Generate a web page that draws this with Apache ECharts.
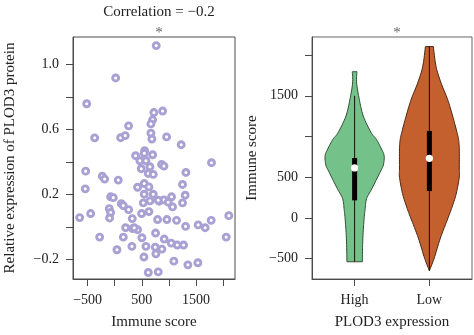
<!DOCTYPE html>
<html>
<head>
<meta charset="utf-8">
<script src="https://cdn.jsdelivr.net/npm/echarts@6/dist/echarts.min.js"></script>
<style>html,body{margin:0;padding:0;background:#fff}#c{width:474px;height:335px}</style>
</head>
<body>
<div id="c"></div>
<script>
// ---- Scatter data (Immune score vs relative PLOD3 protein expression) ----
const scatterX = [766,17,-518,723,884,699,668,256,668,-371,109,194,686,958,1227,552,
  385,545,699,465,576,490,650,865,908,619,711,-537,-230,-187,65,1787,1314,1252,1301,
  422,545,631,545,711,-544,-76,-27,121,158,256,527,650,822,908,1049,1068,1252,803,988,
  -101,-76,-445,-648,-95,324,496,631,791,963,1142,1308,1541,1670,1781,2107,
  201,330,422,360,754,914,1043,1154,1271,158,-279,502,41,317,576,748,871,760,539,
  1092,1351,1535,2058,619,803];
const scatterY = [1.117,0.918,0.759,0.705,0.714,0.660,0.635,0.623,0.578,0.549,0.550,0.563,0.542,0.555,0.507,0.470,
  0.439,0.454,0.445,0.408,0.408,0.359,0.371,0.386,0.375,0.330,0.324,0.344,0.313,0.295,0.289,0.396,0.336,0.262,0.196,
  0.245,0.268,0.247,0.202,0.202,0.235,0.186,0.181,0.144,0.132,0.107,0.149,0.161,0.159,0.167,0.186,0.124,0.149,0.165,0.153,
  0.113,0.089,0.083,0.058,0.056,0.052,0.083,0.095,0.046,0.046,0.041,0.004,0.013,-0.004,0.041,0.070,
  -0.004,-0.010,-0.016,-0.004,-0.037,-0.074,-0.099,-0.111,-0.111,-0.062,-0.062,-0.066,-0.140,-0.119,-0.119,-0.124,-0.136,-0.165,-0.185,
  -0.210,-0.233,-0.220,-0.062,-0.280,-0.276];
const scatterXTicks = [-500,0,500,1000,1500,2000];
const scatterXLabels = [-500,500,1500];
const scatterYTicks = [-0.2,0,0.2,0.4,0.6,0.8,1.0];
const scatterYLabels = [-0.2,0.2,0.6,1.0];

// ---- Violin data (Immune score by PLOD3 expression group) ----
const groups = ['High','Low'];
const violinColors = ['#74c28a','#c4602e'];
const violinEdges = ['#2f4f36','#4a2616'];
const highLevels = [1796,1657,1455,1251,1049,966,845,763,650,560,357,235,100,0,-250,-540];
const highWidths = [0.031,0.027,0.063,0.116,0.22,0.29,0.36,0.395,0.385,0.34,0.23,0.16,0.14,0.128,0.11,0.103];
const lowLevels = [2105,1861,1659,1455,1251,1049,966,845,601,500,300,150,0,-250,-500,-650];
const lowWidths = [0.053,0.089,0.156,0.244,0.311,0.37,0.39,0.4,0.4,0.4,0.36,0.31,0.25,0.147,0.063,0.0];
const boxQ1 = [215,329];
const boxQ3 = [735,1068];
const boxMedian = [613,732];
const whiskerLow = [-540,-650];
const whiskerHigh = [1500,2105];
const violinYTicks = [-500,0,500,1000,1500,2000];
const violinYLabels = [-500,0,500,1500];

const FONT = 'Liberation Serif';
const AX = '#4a4a4a';
const fmtMinus = s => String(s).replace('-', '\u2212');

const chart = echarts.init(document.getElementById('c'), null, {renderer:'canvas'});

const profiles = [
  {levels: highLevels, widths: highWidths},
  {levels: lowLevels, widths: lowWidths}
];

// Catmull-Rom smoothing of a pixel polyline (rendering only)
function smoothLine(pts, steps) {
  const out = [];
  const n = pts.length;
  for (let i = 0; i < n - 1; i++) {
    const p0 = pts[Math.max(i - 1, 0)], p1 = pts[i], p2 = pts[i + 1], p3 = pts[Math.min(i + 2, n - 1)];
    for (let s = 0; s < steps; s++) {
      const t = s / steps, t2 = t * t, t3 = t2 * t;
      const f = k => 0.5 * ((2 * p1[k]) + (-p0[k] + p2[k]) * t + (2 * p0[k] - 5 * p1[k] + 4 * p2[k] - p3[k]) * t2 + (-p0[k] + 3 * p1[k] - 3 * p2[k] + p3[k]) * t3);
      out.push([f(0), f(1)]);
    }
  }
  out.push(pts[n - 1]);
  return out;
}

function violinItem(params, api) {
  const gi = api.value(0);
  const cx = gi + 1;
  const p = profiles[gi];
  const right = [], left = [];
  for (let i = 0; i < p.levels.length; i++) {
    right.push(api.coord([cx + p.widths[i], p.levels[i]]));
    left.push(api.coord([cx - p.widths[i], p.levels[i]]));
  }
  const rs = smoothLine(right, 8);
  const ls = smoothLine(left, 8).reverse();
  const pts = rs.concat(ls);
  const c = api.coord([cx, 0])[0];
  const yq1 = api.coord([cx, boxQ1[gi]])[1];
  const yq3 = api.coord([cx, boxQ3[gi]])[1];
  const ym = api.coord([cx, boxMedian[gi]])[1];
  const ywl = api.coord([cx, whiskerLow[gi]])[1];
  const ywh = api.coord([cx, whiskerHigh[gi]])[1];
  return {
    type: 'group',
    children: [
      {type:'polygon', shape:{points: pts},
        style:{fill: violinColors[gi], stroke: violinEdges[gi], lineWidth: 1}},
      {type:'line', shape:{x1:c, y1:ywl, x2:c, y2:ywh}, style:{stroke:'#111', lineWidth:1}},
      {type:'rect', shape:{x:c-2.5, y:yq3, width:5, height:yq1-yq3}, style:{fill:'#000'}},
      {type:'circle', shape:{cx:c, cy:ym, r:3.6}, style:{fill:'#fff'}}
    ]
  };
}

const axisCommon = {
  axisLine: {show:true, onZero:false, lineStyle:{color:AX, width:1}},
  splitLine: {show:false},
  nameTextStyle: {fontFamily:FONT, fontSize:15, color:'#222'},
};

const option = {
  animation: false,
  backgroundColor: '#fff',
  title: [
    {text:'Correlation = \u22120.2', left:154, top:0, textAlign:'center',
      textStyle:{fontFamily:FONT, fontSize:15, fontWeight:'normal', color:'#222'}},
    {text:'*', left:154, top:21, textAlign:'center',
      textStyle:{fontFamily:FONT, fontSize:15, fontWeight:'normal', color:'#666'}},
    {text:'*', left:392, top:21, textAlign:'center',
      textStyle:{fontFamily:FONT, fontSize:15, fontWeight:'normal', color:'#666'}}
  ],
  grid: [
    {left:73, top:37, width:162, height:242, show:true, borderColor:AX, borderWidth:1, backgroundColor:'transparent'},
    {left:312, top:37, width:160, height:244, show:true, borderColor:'#666', borderWidth:1, backgroundColor:'transparent'}
  ],
  xAxis: [
    Object.assign({}, axisCommon, {
      gridIndex:0, type:'value', min:-771, max:2221,
      name:'Immune score', nameLocation:'middle', nameGap:36,
      axisTick:{show:true, length:7, lineStyle:{color:AX}, customValues: scatterXTicks},
      axisLabel:{fontFamily:FONT, fontSize:14, color:'#222', margin:14, customValues: scatterXLabels,
        formatter: v => fmtMinus(v)}
    }),
    Object.assign({}, axisCommon, {
      gridIndex:1, type:'value', min:0.43, max:2.57,
      name:'PLOD3 expression', nameLocation:'middle', nameGap:36,
      axisTick:{show:true, length:7, lineStyle:{color:AX}, customValues:[1,2]},
      axisLabel:{fontFamily:FONT, fontSize:14, color:'#222', margin:14, customValues:[1,2],
        formatter: v => groups[Math.round(v)-1] || ''}
    })
  ],
  yAxis: [
    Object.assign({}, axisCommon, {
      gridIndex:0, type:'value', min:-0.32, max:1.17,
      name:'Relative expression of PLOD3 protein', nameLocation:'middle', nameGap:55,
      axisTick:{show:true, length:7, lineStyle:{color:AX}, customValues: scatterYTicks},
      axisLabel:{fontFamily:FONT, fontSize:14, color:'#222', margin:14, customValues: scatterYLabels,
        formatter: v => fmtMinus((+v).toFixed(1))}
    }),
    Object.assign({}, axisCommon, {
      gridIndex:1, type:'value', min:-752, max:2223,
      name:'Immune score', nameLocation:'middle', nameGap:52,
      axisTick:{show:true, length:7, lineStyle:{color:AX}, customValues: violinYTicks},
      axisLabel:{fontFamily:FONT, fontSize:14, color:'#222', margin:14, customValues: violinYLabels,
        formatter: v => fmtMinus(v)}
    })
  ],
  series: [
    {
      type:'scatter', xAxisIndex:0, yAxisIndex:0,
      data: scatterX.map((x,i) => [x, scatterY[i]]),
      symbol:'circle', symbolSize:6,
      itemStyle:{color:'#ffffff', borderColor:'#a9a1d3', borderWidth:2.9, opacity:1},
      emphasis:{disabled:true}
    },
    {
      type:'custom', xAxisIndex:1, yAxisIndex:1,
      data: groups.map((g,i) => [i]),
      renderItem: violinItem,
      clip:false
    }
  ]
};
chart.setOption(option);
</script>
</body>
</html>
